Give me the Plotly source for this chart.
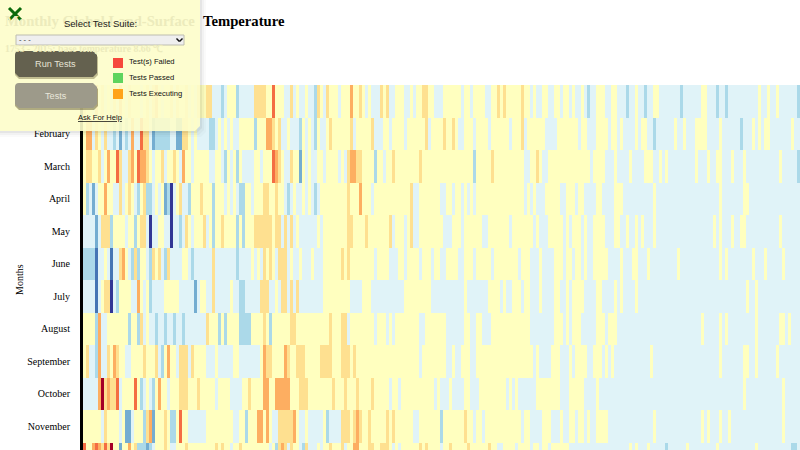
import plotly.graph_objects as go

# one char per year, starting 1753, grouped by decade. bins run cold to hot
bin_chars = "0b123456789"
bin_colors = ["#313695", "#4575b4", "#74add1", "#abd9e9", "#e0f3f8", "#ffffbf",
              "#fee090", "#fdae61", "#f46d43", "#d73027", "#a50026"]

months = ["January", "February", "March", "April", "May", "June", "July",
          "August", "September", "October", "November", "December"]

january = "5443645343 5364354443 4535643445 3544534354 4553332344 4233333555 5447444335 3433433254 3544434446 4454343335 4533444334 3445544333 4444443443 4444334454 5444445443 4334433443 4434334323 3444334433 3233433233 4433333332 3333334433 3233233333 3333343343 3433333323"
february = "4663543533 2313236337 5531222223 3115543433 3322343434 3344444244 4665453343 3324343243 3454444445 3444445333 4434444344 4444534444 5445433444 3444434444 4434445344 4444333344 4444434433 3444434434 3333434433 2333333433 4333444433 3343333332 3334343443 3333334333"
march = "4554453464 4753356476 6543445344 5436443444 4433443243 4243333443 4447654335 4414343344 3444434356 6554444244 3445444444 4454444444 4444444444 2444445444 4444444334 4543344444 4444444443 4444333433 3343333444 3343433333 3333433343 3443334333 4333333333 3343333323"
april = "4231344644 3353454324 5223434120 3453324445 4442444343 4322443444 5544544323 4334343234 4444444454 4464443444 4444444445 3344444443 3443443434 3444444444 4444444343 4333444443 3444344333 3443333444 3333333333 4333333333 3333333333 3343333333 4433333333 3333333333"
may = "3333135552 4444344245 5303344330 3323543444 5342445444 4242444555 5554553535 3433333343 4444444455 4444544444 4453444345 3344444444 3334443444 4443344444 4434444444 3433344444 3434443433 4444333443 3433434333 4333333333 3333333333 4343334334 4333333333 3343333333"
june = "2222b3343b 3356432524 4325453253 3334432333 3335333333 3233334343 5454355534 3343334333 4444445454 4444444344 4433344344 4434443443 3444433444 3444443444 4444434443 3343333444 3443443433 4444433334 3334433343 3333333343 3333333333 3343433333 3334333433 3334333333"
july = "3333b34550 3244443364 3423333444 4433333134 4335333334 3322333335 5533435535 3533333333 4444444443 3334443333 3333333444 4444443333 3333333433 3333344443 4334443443 3343333443 3434444333 3443333434 3333433333 3333333333 3333333333 3333333333 3433433333 3333333333"
august = "4444263344 4444424425 3433233233 2332333333 3544424244 4422224444 5424444445 5444444444 4454445534 4444444344 4343444444 4433444444 4333333443 3443334444 4444444443 3333333444 3434443333 3444344433 3333333333 3333333333 3333334333 3343433333 3333433333 3344343333"
september = "4533263354 6544334444 5444532464 4355535444 4333433333 4433333334 6554444654 4555444445 5554445554 5444444444 4444444444 4434444444 4334334443 3444444444 4444444444 3433334443 3343444433 4443434333 3333333334 3333333333 3333333333 3343333333 4433433333 3433333333"
october = "3333369565 5734444742 3432464434 4455544454 4444344443 3334454444 6644666664 4455544444 4445444544 4544445444 4434434444 4444444343 3343333443 3344444444 4343433333 3444444443 3344444333 3433333333 3333333333 3333333333 3333333333 3333333333 4333333333 3334333333"
november = "4444443544 4434113444 2561444542 2474433333 3444444444 3344244466 4643355555 6433433333 4233335554 5654454444 4545444444 3344444442 4444444544 3443444444 4444443443 3334443334 3344344343 3444433333 3333333333 4333333333 3333334343 3343343333 3333333333 3334333333"
december = "7446765759 4414464522 2123444543 3444544444 4444545443 4454444444 4434256535 4432533343 4454445344 6644455445 5543434444 4454544443 4454444454 4444454433 4444344443 4434434444 4433333333 3333333333 3343433343 3333233333 3433333333 3433333333 3333433333 3333332233"

rows = [january, february, march, april, may, june, july, august, september,
        october, november, december]
z = [[bin_chars.index(c) for c in r.replace(" ", "")] for r in rows]
years = [1753 + i for i in range(len(z[0]))]

# stepped colorscale, one flat band per bin
n = len(bin_colors)
colorscale = []
for i, col in enumerate(bin_colors):
    colorscale.append([i / n, col])
    colorscale.append([(i + 1) / n, col])

LEFT, TOP = 83, 85
W, H = 800, 450
CELL_W, CELL_H = 3, 32.5


def fx(x):
    return (x - LEFT) / (W - LEFT)


def fy(y):
    return 1 - (y - TOP) / (H - TOP)


def box(x0, y0, x1, y1, fill, line=None):
    return dict(type="rect", xref="paper", yref="paper", x0=fx(x0), x1=fx(x1),
                y0=fy(y0), y1=fy(y1), fillcolor=fill, layer="above",
                line=dict(width=1 if line else 0, color=line or fill))


def round_box(x0, y0, x1, y1, r, fill):
    # pixel corners -> svg path on paper coords
    pts = [(x0 + r, y0), (x1 - r, y0), (x1, y0 + r), (x1, y1 - r), (x1 - r, y1),
           (x0 + r, y1), (x0, y1 - r), (x0, y0 + r)]
    p = "M%f,%f" % (fx(pts[0][0]), fy(pts[0][1]))
    ctrl = [None, (x1, y0), None, (x1, y1), None, (x0, y1), None, (x0, y0)]
    for i in range(1, 8):
        if ctrl[i]:
            p += " Q%f,%f %f,%f" % (fx(ctrl[i][0]), fy(ctrl[i][1]), fx(pts[i][0]), fy(pts[i][1]))
        else:
            p += " L%f,%f" % (fx(pts[i][0]), fy(pts[i][1]))
    p += " Q%f,%f %f,%f Z" % (fx(x0), fy(y0), fx(pts[0][0]), fy(pts[0][1]))
    return dict(type="path", xref="paper", yref="paper", path=p, fillcolor=fill,
                layer="above", line=dict(width=0))


def seg(x0, y0, x1, y1, color, width):
    return dict(type="line", xref="paper", yref="paper", x0=fx(x0), x1=fx(x1),
                y0=fy(y0), y1=fy(y1), layer="above", line=dict(color=color, width=width))


def label(x, y, text, size, color, family="Liberation Sans", anchor="left", angle=0):
    return dict(xref="paper", yref="paper", x=fx(x), y=fy(y), text=text, showarrow=False,
                xanchor=anchor, yanchor="middle", textangle=angle,
                font=dict(family=family, size=size, color=color))


fig = go.Figure(go.Heatmap(x=years, y=months, z=z, colorscale=colorscale, zmin=0, zmax=n,
                           showscale=False, xgap=0, ygap=0, hoverinfo="skip"))

shapes = []
# soft shadow round the test panel
for grow, a in [(6, 0.02), (4, 0.03), (2, 0.05)]:
    shapes.append(round_box(-10, -10, 200 + grow, 131 + grow, 5, "rgba(0,0,0,%s)" % a))
shapes.append(round_box(-10, -10, 200, 131, 5, "rgba(255,255,204,0.9)"))
shapes.append(seg(9, 8, 21, 20, "#0b6b0b", 3))
shapes.append(seg(21, 8, 9, 20, "#0b6b0b", 3))
shapes.append(box(16, 35, 184, 45, "#efefef", "#bdbdb0"))
shapes.append(seg(176.5, 38.5, 179.5, 41.5, "#111111", 1.5))
shapes.append(seg(179.5, 41.5, 182.5, 38.5, "#111111", 1.5))
shapes.append(round_box(15, 53, 98, 79, 4, "rgba(80,70,30,0.35)"))
shapes.append(round_box(15, 51, 97, 77, 4, "#64614f"))
shapes.append(round_box(15, 85, 98, 110, 4, "rgba(80,70,30,0.45)"))
shapes.append(round_box(15, 83, 97, 108, 4, "#9d9a8a"))
shapes.append(box(113, 58, 123, 68, "#f6483c"))
shapes.append(box(113, 73, 123, 83, "#5ed45e"))
shapes.append(box(113, 89, 123, 99, "#ffa31a"))

annotations = [
    label(3, 21, "<b>Monthly Global Land-Surface</b>", 14.67, "#ecebbc", "Liberation Serif"),
    label(201, 21, "<b>Temperature</b>", 14.67, "#000000", "Liberation Serif"),
    label(3, 48, "<b>1753 - 2015: base temperature 8.66 ℃</b>", 9.8, "#ecebbc", "Liberation Serif"),
    label(19, 280, "Months", 10, "#000000", "Liberation Serif", "center", -90),
    label(100, 23, "Select Test Suite:", 9.5, "#1a1a1a", anchor="center"),
    label(17, 40, "- - -", 7.5, "#333333"),
    label(55.5, 64.5, "Run Tests", 9.2, "#e5e3d4", anchor="center"),
    label(55.5, 95.5, "Tests", 9.2, "#e9e7da", anchor="center"),
    label(126.5, 62, "Test(s) Failed", 7.6, "#111111"),
    label(126.5, 78, "Tests Passed", 7.6, "#111111"),
    label(126.5, 93, "Tests Executing", 7.6, "#111111"),
    label(100, 118, "<u>Ask For Help</u>", 7.6, "#111111", anchor="center"),
]

fig.update_layout(
    width=W,
    height=H,
    margin=dict(l=LEFT, r=0, t=TOP, b=0),
    paper_bgcolor="white",
    plot_bgcolor="white",
    font=dict(family="Liberation Serif", size=10, color="black"),
    xaxis=dict(visible=False, range=[1752.5, 1752.5 + (W - LEFT) / CELL_W]),
    yaxis=dict(range=[-0.5 + (H - TOP) / CELL_H, -0.5], showline=True, linewidth=3,
               linecolor="black", ticks="outside", ticklen=8, tickcolor="rgba(0,0,0,0)",
               showgrid=False, zeroline=False),
    shapes=shapes,
    annotations=annotations,
)

# page margin would push the chart 8px in from the window edge
fig.write_html("out.html", config={"displayModeBar": False},
               post_script="document.body.style.margin='0';document.body.style.overflow='hidden';")
